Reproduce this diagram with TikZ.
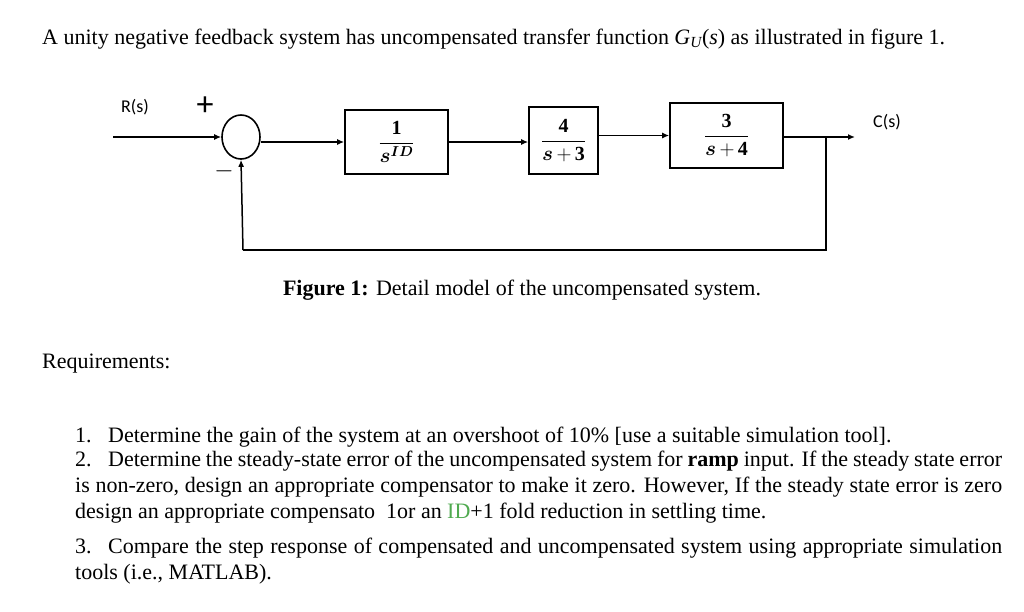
\documentclass[tikz,border=0pt]{standalone}
\usepackage{amsmath,bm}
\usepackage{fontspec}
\setmainfont{Liberation Serif}
\newfontfamily\sansf{Carlito}
\usetikzlibrary{arrows.meta,shapes.geometric}
\begin{document}
\begin{tikzpicture}[x=1pt,y=-1pt,
  blk/.style={draw,line width=1.6pt,inner sep=0pt},
  wire/.style={line width=1.5pt},
  arr/.style={wire,-{Latex[length=7pt,width=6pt]}},
  txt/.style={inner sep=0pt,anchor=base west,font=\fontsize{22}{26}\selectfont},
  par/.style={inner sep=0pt,anchor=north west,text width=927pt,align=justify,font=\fontsize{22}{26}\selectfont},
  sl/.style={font=\sansf\fontsize{18}{20}\selectfont,inner sep=0pt},
  fr/.style={font=\fontsize{20}{22}\selectfont}]
\useasboundingbox (0,0) rectangle (1024,611);
\node[txt] (t1) at (42,44) {A unity negative feedback system has uncompensated transfer function \textit{G\textsubscript{U}}(\textit{s}) as illustrated in figure 1.};
% diagram
\node[draw,ellipse,line width=1.6pt,minimum width=38pt,minimum height=44pt,inner sep=0pt] (sum) at (241,137) {};
\node[blk,minimum width=103pt,minimum height=64pt] (b1) at (396.5,142) {};
\node[blk,minimum width=69pt,minimum height=67pt] (b2) at (563.5,140.5) {};
\node[blk,minimum width=113pt,minimum height=65pt] (b3) at (726.5,135.5) {};
\node[fr] (f1) at (b1) {$\dfrac{\mathbf 1}{\bm{s^{ID}}}$};
\node[fr] (f2) at (b2) {$\dfrac{\mathbf 4}{\bm{s}\,\mathbf{+}\,\mathbf 3}$};
\node[fr] (f3) at (b3) {$\dfrac{\mathbf 3}{\bm{s}\,\mathbf{+}\,\mathbf 4}$};
\coordinate (in) at (113,137);
\coordinate (tap) at (826,137);
\coordinate (out) at (855,137);
\coordinate (fb) at (243,250);
\node[sl] (R) at (135,107) {R(s)};
\node[sl] (C) at (887,122) {C(s)};
\node[inner sep=0pt,font=\sansf\fontsize{34}{34}\selectfont] (plus) at (205,106) {+};
\node[inner sep=0pt,font=\fontsize{28}{28}\selectfont] (minus) at (224,171) {$-$};
\draw[arr] (in) -- (sum.west);
\draw[arr] (sum.east |- 0,142) -- (b1.west);
\draw[arr] (b1.east) -- (b2.west |- b1.east);
\draw[arr] (b2.east |- b3.west) -- (b3.west);
\draw[arr] (b3.east |- out) -- (out);
\draw[wire] (tap) -- (tap |- fb) -- (fb);
\draw[arr] (fb) -- (sum.south);
\node[inner sep=0pt,font=\fontsize{22}{26}\selectfont] (cap) at (522,290) {\textbf{Figure 1:} Detail model of the uncompensated system.};
\node[txt] (req) at (42,368) {Requirements:};
\node[txt] (i1) at (75,442) {\makebox[33pt][l]{1.}Determine the gain of the system at an overshoot of 10\% [use a suitable simulation tool].};
\node[par] (i2) at (75,451) {\hangindent=33pt\hangafter=1\makebox[33pt][l]{2.}Determine the steady-state error of the uncompensated system for \textbf{ramp} input. If the steady state error is non-zero, design an appropriate compensator to make it zero. However, If the steady state error is zero design an appropriate compensato\ \ 1or an \textcolor[RGB]{80,170,80}{ID}+1 fold reduction in settling time.};
\node[par] (i3) at (75,538) {\hangindent=33pt\hangafter=1\makebox[33pt][l]{3.}Compare the step response of compensated and uncompensated system using appropriate simulation tools (i.e., MATLAB).};
\end{tikzpicture}
\end{document}
